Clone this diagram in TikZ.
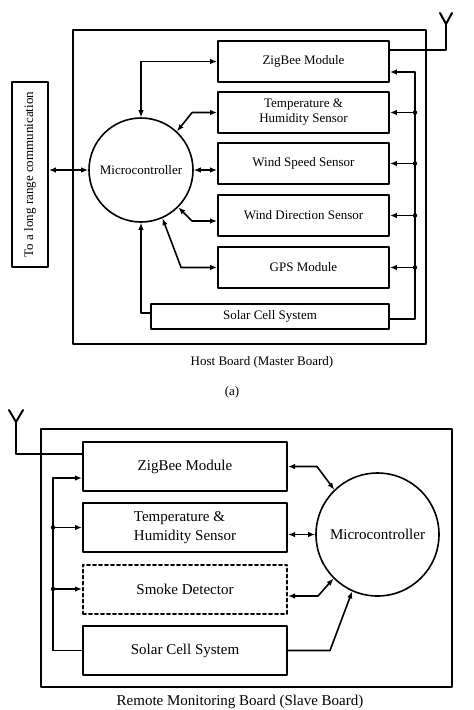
\documentclass[tikz,border=0pt]{standalone}
\usepackage{fontspec}
\setmainfont{Liberation Serif}
\usetikzlibrary{arrows.meta}

\begin{document}
\begin{tikzpicture}[x=1pt,y=-1pt,line cap=round,line join=round,
    >={Latex[length=7pt,width=5.5pt]},
    wire/.style={line width=1.6pt},
    boxa/.style={draw,line width=1.8pt,minimum width=171pt,minimum height=41pt,align=center,
        font=\fontsize{13}{15}\selectfont},
    boxb/.style={draw,line width=2pt,minimum width=204pt,minimum height=49pt,
        font=\fontsize{15}{19}\selectfont},
    mcu/.style={draw,circle,line width=1.6pt,inner sep=0pt},
    captext/.style={font=\fontsize{13}{15}\selectfont}]
    \useasboundingbox (0,0) rectangle (474,710);

    % (a) host board
    \draw [line width=1.8pt] (73,30) rectangle (426,344);
    \node [boxa] (zig1) at (303.5,61.5) {ZigBee Module};
    \node [boxa] (temp1) at (303.5,112.5) {Temperature \&\\Humidity Sensor};
    \node [boxa] (ws1) at (303.5,163.5) {Wind Speed Sensor};
    \node [boxa] (wd1) at (303.5,215.5) {Wind Direction Sensor};
    \node [boxa] (gps1) at (303.5,267.5) {GPS Module};
    \node [boxa,minimum width=238pt,minimum height=25pt] (sol1) at (270,316.5) {Solar Cell System};
    \node [mcu,minimum size=104pt,font=\fontsize{13}{15}\selectfont] (mcu1) at (141,170) {Microcontroller};
    \node [draw,line width=1.8pt,minimum width=36pt,minimum height=185pt,inner sep=0pt,
        font=\fontsize{13}{15}\selectfont] (long) at (30,174.5) {\rotatebox{90}{To a long range communication}};

    \coordinate (ant1) at (446,24);
    \draw [wire,line width=2pt] ([yshift=-10pt]zig1.north east) -| (ant1);
    \draw [wire,line width=2pt] (ant1) -- ++(-6,-11) (ant1) -- ++(6,-11);

    \coordinate (bus1) at (415,72);
    \draw [wire,->] ([yshift=-2.5pt]sol1.east) -| (bus1) -- (zig1.east |- bus1);
    \foreach \n in {temp1,ws1,wd1,gps1} {
        \draw [wire,->] (\n.east -| bus1) -- (\n.east);
        \fill (\n.east -| bus1) circle (2.2);
    }

    \draw [wire,<->] (mcu1.north) |- (zig1.west);
    \draw [wire,<->] (mcu1.47) -- ([xshift=-25pt]temp1.west) -- (temp1.west);
    \draw [wire,<->] (mcu1.east) -- (mcu1.east -| ws1.west);
    \draw [wire,<->] (mcu1.-45) -- ([shift={(-25pt,-5.5pt)}]wd1.west) -- ([yshift=-5.5pt]wd1.west);
    \draw [wire,<->] (mcu1.-66) -- ([xshift=-36pt]gps1.west) -- (gps1.west);
    \draw [wire,->] ([yshift=3.5pt]sol1.west) -| (mcu1.south);
    \draw [wire,<->] (mcu1.west) -- (mcu1.west -| long.east);

    \node [captext] (host) at (262,362) {Host Board (Master Board)};
    \node [captext] (parta) at (232,392) {(a)};

    % (b) remote monitoring board
    \draw [line width=1.8pt] (41,429) rectangle (452,687);
    \node [boxb] (zig2) at (185,466.5) {ZigBee Module};
    \node [boxb,align=left] (temp2) at (185,527.5) {Temperature \&\\Humidity Sensor};
    \node [boxb,dashed] (smoke) at (185,589) {Smoke Detector};
    \node [boxb] (sol2) at (185,650.5) {Solar Cell System};
    \node [mcu,minimum size=123pt,font=\fontsize{15}{18}\selectfont] (mcu2) at (377.5,534.5) {Microcontroller};

    \coordinate (ant2) at (16,422);
    \draw [wire,line width=2pt] ([yshift=12.5pt]zig2.west) -| (ant2);
    \draw [wire,line width=2pt] (ant2) -- ++(-7,-12) (ant2) -- ++(7,-12);

    \coordinate (bus2) at (53,478);
    \draw [wire,->] (sol2.west) -| (bus2) -- (zig2.west |- bus2);
    \foreach \n in {temp2,smoke} {
        \draw [wire,->] (\n.west -| bus2) -- (\n.west);
        \fill (\n.west -| bus2) circle (2.2);
    }

    \draw [wire,<->] (zig2.east) -- ([xshift=29pt]zig2.east) -- (mcu2.134);
    \draw [wire,<->] (mcu2.west) -- (mcu2.west -| temp2.east);
    \draw [wire,<->] ([yshift=-7pt]smoke.east) -- ([shift={(30pt,-7pt)}]smoke.east) -- (mcu2.225);
    \draw [wire,->] (sol2.east) -- ([xshift=42pt]sol2.east) -- (mcu2.246);

    \node [captext,font=\fontsize{15}{18}\selectfont] (remote) at (240,702) {Remote Monitoring Board (Slave Board)};
\end{tikzpicture}
\end{document}
